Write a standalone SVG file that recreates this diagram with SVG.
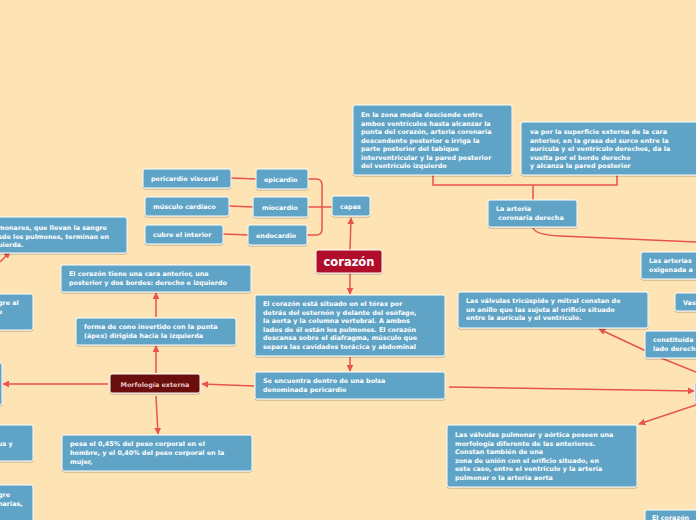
<svg xmlns="http://www.w3.org/2000/svg" width="696" height="520" viewBox="0 0 696 520">
<defs>
<marker id="ah" viewBox="0 0 10 10" refX="9" refY="5" markerWidth="7" markerHeight="7" orient="auto" markerUnits="userSpaceOnUse"><path d="M0,0 L10,5 L0,10 z" fill="#e8524f"/></marker>
<filter id="sh" x="-5%" y="-10%" width="110%" height="130%"><feDropShadow dx="0" dy="1" stdDeviation="0.6" flood-color="#000" flood-opacity="0.3"/></filter>
</defs>
<style>
.n rect{fill:#5ea4c6;stroke:#fff;stroke-width:1;filter:url(#sh)}
.n text{fill:#fff;font-family:"DejaVu Sans",sans-serif;font-weight:bold;font-size:6.4px}
.c path,.c line{stroke:#e8524f;stroke-width:1.5;fill:none}
.a{marker-end:url(#ah)}
</style>
<rect width="696" height="520" fill="#fee4b5"/>
<g class="c">
<path d="M231,178 L256,179 M229,206 L253,207 M223,234 L248,235"/>
<path d="M308,179 L316,179 Q322,179 322,185 L322,229 Q322,235 316,235 L307,235 M308,207 L332,207"/>
<line class="a" x1="350" y1="250" x2="351" y2="218"/>
<line class="a" x1="350" y1="273" x2="350" y2="294"/>
<line class="a" x1="350" y1="357" x2="350" y2="371"/>
<line class="a" x1="254" y1="386" x2="202" y2="384"/>
<line class="a" x1="156" y1="373" x2="156" y2="346"/>
<line class="a" x1="156" y1="317" x2="156" y2="293"/>
<line class="a" x1="156" y1="396" x2="158" y2="434"/>
<line class="a" x1="108" y1="384" x2="3" y2="384"/>
<line class="a" x1="0" y1="262" x2="10" y2="252"/>
<line class="a" x1="449" y1="387" x2="694" y2="391"/>
<line class="a" x1="696" y1="405" x2="639" y2="424"/>
<path class="a" d="M696,372 L661,358 L599,329"/>
<path d="M433,175 L433,185 L617,185 L617,175 M533,185 L533,200"/>
<path d="M533,228 Q536,235 560,236 L696,242"/>
</g>
<g id="capas" class="n"><rect x="332" y="196" width="38" height="20" rx="2"/><text x="340" y="209">capas</text></g>
<g id="epicardio" class="n"><rect x="256" y="169" width="52" height="20" rx="2"/><text x="264" y="182">epicardio</text></g>
<g id="miocardio" class="n"><rect x="253" y="197" width="55" height="20" rx="2"/><text x="262" y="210">miocardio</text></g>
<g id="endocardio" class="n"><rect x="248" y="225" width="59" height="20" rx="2"/><text x="256" y="238">endocardio</text></g>
<g id="pericardio" class="n"><rect x="143" y="169" width="88" height="19" rx="2"/><text x="151" y="181">pericardio visceral</text></g>
<g id="musculo" class="n"><rect x="145" y="197" width="84" height="19" rx="2"/><text x="153" y="209">músculo cardíaco</text></g>
<g id="cubre" class="n"><rect x="145" y="225" width="78" height="19" rx="2"/><text x="153" y="237">cubre el interior</text></g>
<g id="corazon"><rect x="316" y="250" width="66" height="23" rx="2" fill="#b0112a" stroke="#fff" filter="url(#sh)"/><text x="349" y="266" text-anchor="middle" fill="#fff" font-family="DejaVu Sans,sans-serif" font-weight="bold" font-size="11.5">corazón</text></g>
<g id="situado" class="n"><rect x="255" y="295" width="190" height="61" rx="2"/><text x="263" y="306">El corazón está situado en el tórax por<tspan x="263" dy="8.6">detrás del esternón y delante del esófago,</tspan><tspan x="263" dy="8.6">la aorta y la columna vertebral. A ambos</tspan><tspan x="263" dy="8.6">lados de él están los pulmones. El corazón</tspan><tspan x="263" dy="8.6">descansa sobre el diafragma, músculo que</tspan><tspan x="263" dy="8.6">separa las cavidades torácica y abdominal</tspan></text></g>
<g id="bolsa" class="n"><rect x="255" y="372" width="190" height="27" rx="2"/><text x="263" y="383">Se encuentra dentro de una bolsa<tspan x="263" dy="9">denominada pericardio</tspan></text></g>
<g id="morfologia"><rect x="110" y="374" width="90" height="19" rx="2" fill="#6b0a0a" stroke="#fff" filter="url(#sh)"/><text x="155" y="386.5" text-anchor="middle" fill="#e8c4c4" font-family="DejaVu Sans,sans-serif" font-weight="bold" font-size="6.4">Morfología externa</text></g>
<g id="cono" class="n"><rect x="76" y="318" width="160" height="27" rx="2"/><text x="84" y="329">forma de cono invertido con la punta<tspan x="84" dy="9">(ápex) dirigida hacia la izquierda</tspan></text></g>
<g id="cara" class="n"><rect x="61" y="265" width="190" height="27" rx="2"/><text x="69" y="276">El corazón tiene una cara anterior, una<tspan x="69" dy="9">posterior y dos bordes: derecho e izquierdo</tspan></text></g>
<g id="pesa" class="n"><rect x="62" y="435" width="190" height="36" rx="2"/><text x="70" y="446">pesa el 0,45% del peso corporal en el<tspan x="70" dy="9">hombre, y el 0,40% del peso corporal en la</tspan><tspan x="70" dy="9">mujer,</tspan></text></g>
<g id="l1" class="n"><rect x="-10" y="217" width="137" height="36" rx="2"/><text x="-2" y="230">monares, que llevan la sangre<tspan x="-2" dy="8.6">sde los pulmones, terminan en</tspan><tspan x="-2" dy="8.6">uierda.</tspan></text></g>
<g id="l2" class="n"><rect x="-10" y="294" width="43" height="36" rx="2"/><text x="-2" y="305">gre al<tspan x="-2" dy="8.6">e</tspan></text></g>
<g id="l3" class="n"><rect x="-10" y="363" width="12" height="42" rx="2"/></g>
<g id="l4" class="n"><rect x="-10" y="425" width="43" height="36" rx="2"/><text x="-2" y="446">us y</text></g>
<g id="l5" class="n"><rect x="-10" y="485" width="43" height="40" rx="2"/><text x="-2" y="497">gre<tspan x="-2" dy="8.6">narias,</tspan></text></g>
<g id="zona" class="n"><rect x="353" y="105" width="159" height="70" rx="2"/><text x="361" y="117">En la zona media desciende entre<tspan x="361" dy="8.5">ambos ventrículos hasta alcanzar la</tspan><tspan x="361" dy="8.5">punta del corazón, arteria coronaria</tspan><tspan x="361" dy="8.5">descendente posterior e irriga la</tspan><tspan x="361" dy="8.5">parte posterior del tabique</tspan><tspan x="361" dy="8.5">interventricular y la pared posterior</tspan><tspan x="361" dy="8.5">del ventrículo izquierdo</tspan></text></g>
<g id="va" class="n"><rect x="521" y="122" width="180" height="53" rx="2"/><text x="530" y="134">va por la superficie externa de la cara<tspan x="530" dy="8.5">anterior, en la grasa del surco entre la</tspan><tspan x="530" dy="8.5">aurícula y el ventrículo derechos, da la</tspan><tspan x="530" dy="8.5">vuelta por el borde derecho</tspan><tspan x="530" dy="8.5">y alcanza la pared posterior</tspan></text></g>
<g id="arteria" class="n"><rect x="488" y="200" width="89" height="27" rx="2"/><text x="496" y="211">La arteria<tspan x="496" dy="9"> coronaria derecha</tspan></text></g>
<g id="arterias" class="n"><rect x="641" y="252" width="60" height="27" rx="2"/><text x="649" y="263">Las arterias<tspan x="649" dy="9">oxigenada a</tspan></text></g>
<g id="vas" class="n"><rect x="675" y="293" width="30" height="18" rx="2"/><text x="683" y="305">Vas</text></g>
<g id="tricuspide" class="n"><rect x="458" y="292" width="190" height="36" rx="2"/><text x="466" y="303">Las válvulas tricúspide y mitral constan de<tspan x="466" dy="8.6">un anillo que las sujeta al orificio situado</tspan><tspan x="466" dy="8.6">entre la aurícula y el ventrículo.</tspan></text></g>
<g id="constituida" class="n"><rect x="645" y="331" width="60" height="27" rx="2"/><text x="653" y="342">constituida<tspan x="653" dy="9">lado derech</tspan></text></g>
<g id="rnode" class="n"><rect x="695" y="382" width="10" height="21" rx="2"/></g>
<g id="pulmonar" class="n"><rect x="447" y="425" width="190" height="62" rx="2"/><text x="455" y="437">Las válvulas pulmonar y aórtica poseen una<tspan x="455" dy="8.6">morfología diferente de las anteriores.</tspan><tspan x="455" dy="8.6">Constan también de una</tspan><tspan x="455" dy="8.6">zona de unión con el orificio situado, en</tspan><tspan x="455" dy="8.6">este caso, entre el ventrículo y la arteria</tspan><tspan x="455" dy="8.6">pulmonar o la arteria aorta</tspan></text></g>
<g id="bottom" class="n"><rect x="645" y="510" width="60" height="20" rx="2"/><text x="652" y="520">El corazón</text></g>
</svg>
